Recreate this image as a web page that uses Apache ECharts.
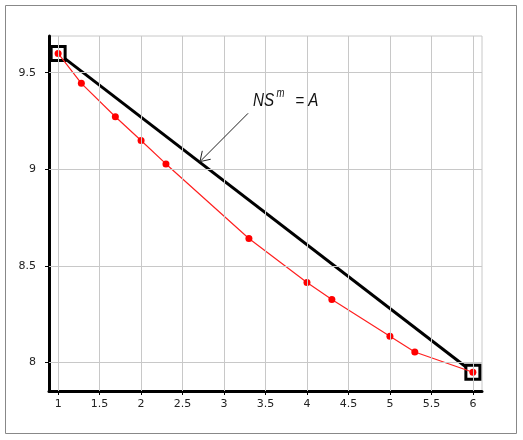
<!DOCTYPE html>
<html>
<head>
<meta charset="utf-8">
<script src="https://cdn.jsdelivr.net/npm/echarts@6/dist/echarts.min.js"></script>
<style>html,body{margin:0;padding:0;background:#fff;}#c{width:523px;height:440px;}</style>
</head>
<body>
<div id="c"></div>
<script>
const xTicks = [1, 1.5, 2, 2.5, 3, 3.5, 4, 4.5, 5, 5.5, 6];
const yTicks = [8, 8.5, 9, 9.5];
const curveX = [1, 1.28, 1.69, 2, 2.3, 3.3, 4, 4.3, 5, 5.3, 6];
const curveY = [9.6, 9.445, 9.272, 9.149, 9.028, 8.642, 8.414, 8.326, 8.136, 8.055, 7.95];
const chordX = [1, 6];
const chordY = [9.6, 7.95];
const annotationText = ['NS', 'm', ' = A'];
const arrowFrom = [3.29, 9.29];
const arrowTo = [2.71, 9.04];

const chart = echarts.init(document.getElementById('c'), null, {renderer: 'canvas'});
const labelFont = {fontFamily: 'DejaVu Sans', fontSize: 11, color: '#222'};
const option = {
  animation: false,
  backgroundColor: '#fff',
  grid: {left: 49, top: 36, right: 41, bottom: 49, show: true, borderColor: '#c8c8c8', borderWidth: 1, backgroundColor: 'transparent'},
  xAxis: {
    type: 'value', min: 0.89, max: 6.11,
    axisLine: {lineStyle: {color: '#000', width: 3}},
    axisTick: {show: true, length: 4, customValues: xTicks, lineStyle: {color: '#000', width: 1}},
    axisLabel: Object.assign({margin: 8, customValues: xTicks}, labelFont),
    splitLine: {show: false}
  },
  yAxis: {
    type: 'value', min: 7.853, max: 9.69,
    axisLine: {show: true, lineStyle: {color: '#000', width: 3}},
    axisTick: {show: true, length: 4, customValues: yTicks, lineStyle: {color: '#000', width: 1}},
    axisLabel: Object.assign({margin: 13, customValues: yTicks}, labelFont),
    splitLine: {show: false}
  },
  series: [
    {
      type: 'scatter', data: [], z: 1, silent: true,
      markLine: {
        silent: true, symbol: 'none', label: {show: false}, animation: false,
        lineStyle: {type: 'solid', color: '#c8c8c8', width: 1},
        emphasis: {disabled: true},
        data: xTicks.map(v => ({xAxis: v})).concat(yTicks.map(v => ({yAxis: v})))
      }
    },
    {
      type: 'line', z: 2,
      data: chordX.map((x, i) => [x, chordY[i]]),
      symbol: 'rect', symbolSize: 14, showAllSymbol: true,
      itemStyle: {color: '#fff', borderColor: '#000', borderWidth: 3},
      lineStyle: {color: '#000', width: 3}
    },
    {
      type: 'line', z: 3,
      data: curveX.map((x, i) => [x, curveY[i]]),
      symbol: 'circle', symbolSize: 7, showAllSymbol: true,
      itemStyle: {color: '#ff0000', borderWidth: 0},
      lineStyle: {color: '#ff2020', width: 1.2}
    }
  ]
};
chart.setOption(option);

const p0 = chart.convertToPixel({gridIndex: 0}, arrowFrom);
const p1 = chart.convertToPixel({gridIndex: 0}, arrowTo);
const ang = Math.atan2(p0[1] - p1[1], p0[0] - p1[0]);
const L = 11, spread = Math.PI / 5.5;
const h1 = [p1[0] + L * Math.cos(ang - spread), p1[1] + L * Math.sin(ang - spread)];
const h2 = [p1[0] + L * Math.cos(ang + spread), p1[1] + L * Math.sin(ang + spread)];

chart.setOption({
  graphic: [
    {type: 'rect', shape: {x: 5.5, y: 5.5, width: 511, height: 428}, style: {fill: 'none', stroke: '#888', lineWidth: 1}, silent: true, z: 0},
    {type: 'line', shape: {x1: p0[0], y1: p0[1], x2: p1[0], y2: p1[1]}, style: {stroke: '#222', lineWidth: 1}, z: 10},
    {type: 'polyline', shape: {points: [h1, p1, h2]}, style: {stroke: '#222', lineWidth: 1, fill: 'none'}, z: 10},
    {
      type: 'text', x: 253, y: 88, z: 10, scaleX: 0.8,
      style: {
        text: '{a|' + annotationText[0] + '}{b|' + annotationText[1] + '}{a|' + annotationText[2] + '}',
        rich: {
          a: {fontFamily: 'Liberation Sans', fontStyle: 'italic', fontSize: 19, fill: '#111', lineHeight: 22, verticalAlign: 'bottom'},
          b: {fontFamily: 'Liberation Sans', fontStyle: 'italic', fontSize: 12, fill: '#111', lineHeight: 22, verticalAlign: 'top', padding: [0, 8, 0, 3]}
        }
      }
    }
  ]
});
</script>
</body>
</html>
